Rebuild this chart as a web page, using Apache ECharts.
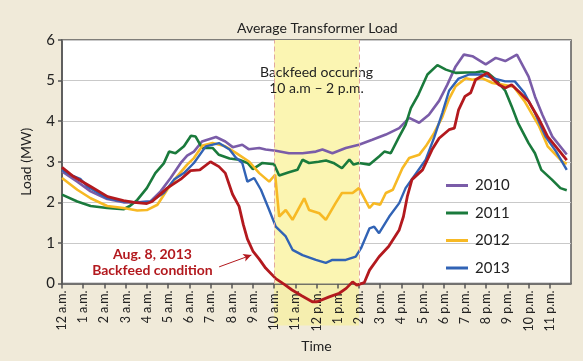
<!DOCTYPE html>
<html><head><meta charset="utf-8">
<script src="https://cdn.jsdelivr.net/npm/echarts@6/dist/echarts.min.js"></script>
<style>html,body{margin:0;padding:0;background:#f0ead9;}#c{width:583px;height:361px;}</style>
</head><body><div id="c"></div>
<script>
const hourLabels = ['12 a.m.','1 a.m.','2 a.m.','3 a.m.','4 a.m.','5 a.m.','6 a.m.','7 a.m.','8 a.m.','9 a.m.','10 a.m.','11 a.m.','12 p.m.','1 p.m.','2 p.m.','3 p.m.','4 p.m.','5 p.m.','6 p.m.','7 p.m.','8 p.m.','9 p.m.','10 p.m.','11 p.m.'];
const legendNames = ['2010','2011','2012','2013'];

const hours2010 = [0,0.72,1.35,2.13,2.9,3.55,4.17,4.65,5.12,5.6,5.9,6.22,6.6,7.26,7.7,8.05,8.5,8.8,9.3,9.6,10.08,10.7,11.34,11.97,12.28,12.75,13.38,14.0,14.63,15.27,15.9,16.37,16.84,17.3,17.78,18.17,18.56,18.95,19.35,19.98,20.45,20.9,21.45,22.0,22.3,22.65,23.12,23.8];
const load2010  = [2.76,2.51,2.27,2.08,2.0,2.0,2.02,2.27,2.6,2.97,3.15,3.25,3.5,3.61,3.5,3.36,3.42,3.31,3.34,3.3,3.27,3.21,3.21,3.25,3.3,3.21,3.34,3.42,3.54,3.67,3.83,4.08,3.96,4.16,4.5,4.9,5.35,5.64,5.6,5.4,5.56,5.48,5.64,5.1,4.61,4.16,3.62,3.18];

const hours2011 = [0,0.72,1.35,2.13,2.9,3.2,3.55,4.0,4.4,4.8,5.05,5.35,5.75,6.08,6.3,6.6,7.1,7.4,7.9,8.35,8.75,9.0,9.45,10.0,10.24,10.7,11.1,11.34,11.65,12.1,12.45,12.8,13.2,13.55,13.75,14.0,14.5,14.95,15.2,15.5,15.9,16.2,16.45,16.8,17.23,17.7,18.1,18.56,19.04,19.5,19.8,20.1,20.5,20.9,21.2,21.5,22.0,22.3,22.6,23.1,23.5,23.8];
const load2011  = [2.19,2.02,1.91,1.86,1.83,1.91,2.06,2.35,2.72,2.96,3.25,3.21,3.38,3.64,3.62,3.34,3.34,3.17,3.08,3.05,2.97,2.82,2.97,2.94,2.66,2.74,2.8,3.05,2.97,3.0,3.03,2.97,2.84,3.05,2.93,2.97,2.93,3.13,3.25,3.21,3.62,3.91,4.32,4.65,5.15,5.38,5.27,5.19,5.2,5.2,5.23,5.18,5.0,4.75,4.37,3.96,3.46,3.21,2.8,2.56,2.35,2.3];

const hours2012 = [0,0.72,1.35,2.13,2.9,3.55,4.0,4.5,4.96,5.43,5.9,6.22,6.63,7.1,7.7,8.2,8.83,9.3,9.77,10.05,10.24,10.55,10.87,11.42,11.65,12.13,12.44,12.9,13.2,13.7,14.0,14.5,14.7,15.0,15.27,15.6,16.05,16.37,16.84,17.15,17.55,17.93,18.25,18.56,19.04,19.35,19.8,20.3,20.75,21.3,21.8,22.5,22.9,23.6,23.8];
const load2012  = [2.6,2.31,2.1,1.91,1.86,1.8,1.81,1.94,2.31,2.64,2.93,3.09,3.4,3.46,3.38,3.22,3.0,2.72,2.51,2.68,1.65,1.81,1.57,2.1,1.81,1.73,1.57,1.98,2.23,2.23,2.35,1.86,1.98,1.94,2.23,2.31,2.84,3.09,3.17,3.38,3.71,4.1,4.55,4.86,5.06,5.02,5.06,4.94,4.9,4.85,4.5,3.87,3.38,3.0,2.95];

const hours2013 = [0,0.4,0.88,1.2,2.13,2.9,3.55,4.17,4.8,5.28,5.75,6.22,6.78,7.4,7.9,8.2,8.5,8.74,9.06,9.38,9.77,10.08,10.55,10.87,11.34,11.97,12.44,12.75,13.38,13.85,14.1,14.5,14.72,14.95,15.43,15.9,16.2,16.7,17.15,17.55,17.93,18.25,18.7,19.2,19.8,20.3,20.9,21.35,21.8,22.3,22.8,23.3,23.8];
const load2013  = [2.8,2.68,2.57,2.39,2.1,2.02,2.0,2.02,2.23,2.56,2.72,2.97,3.38,3.46,3.3,3.1,2.97,2.51,2.6,2.31,1.81,1.4,1.16,0.83,0.7,0.58,0.51,0.58,0.58,0.66,0.87,1.36,1.4,1.24,1.65,1.98,2.35,2.72,3.05,3.6,4.2,4.75,5.05,5.15,5.15,5.06,4.98,4.98,4.7,4.2,3.62,3.25,2.8];

const hoursAug8 = [0,0.5,1.35,2.15,2.9,3.4,4.0,4.25,4.96,5.6,6.06,6.5,7.0,7.4,7.7,8.04,8.35,8.55,8.74,9.0,9.3,9.6,10.08,10.5,10.85,11.3,11.8,12.03,12.6,13.07,13.4,13.7,13.9,14.25,14.5,14.95,15.4,15.9,16.1,16.28,16.5,17.0,17.45,17.78,18.25,18.5,18.7,19.0,19.27,19.5,20.05,20.35,20.6,20.9,21.2,21.6,22.0,22.5,22.9,23.4,23.8];
const loadAug8  = [2.86,2.65,2.39,2.14,2.04,2.0,1.97,2.02,2.35,2.57,2.78,2.8,3.0,2.88,2.72,2.2,1.9,1.45,1.1,0.8,0.6,0.38,0.12,-0.03,-0.16,-0.3,-0.45,-0.45,-0.33,-0.24,-0.12,0.04,-0.04,0.02,0.33,0.66,0.91,1.32,1.65,2.14,2.56,2.8,3.3,3.58,3.79,3.83,4.28,4.61,4.7,5.02,5.19,5.02,4.9,4.82,4.9,4.7,4.49,4.04,3.62,3.3,3.04];

const backfeedStart = 10, backfeedEnd = 14;
const arrowFrom = [7.41, 0.41], arrowTo = [8.93, 0.7];

const pairs = (h, v) => h.map((x, i) => [x, v[i]]);
const FONT = 'Lato';
const colors = {p:'#7a5ca8', g:'#1a7a3c', y:'#f7b924', b:'#3163b5', r:'#b3191e'};

const chart = echarts.init(document.getElementById('c'), null, {renderer:'canvas'});
const lineSeries = (name, data, color, w) => ({
  name, type:'line', data, showSymbol:false, symbol:'none', color,
  lineStyle:{color, width:w}, animation:false
});
const series = [
  lineSeries('2010', pairs(hours2010, load2010), colors.p, 2.6),
  lineSeries('2011', pairs(hours2011, load2011), colors.g, 2.6),
  lineSeries('2012', pairs(hours2012, load2012), colors.y, 2.6),
  lineSeries('2013', pairs(hours2013, load2013), colors.b, 2.4),
  Object.assign(lineSeries('Aug. 8, 2013', pairs(hoursAug8, loadAug8), colors.r, 2.8), {
    clip:false, z:3,
    markLine:{silent:true, symbol:['none','arrow'], symbolSize:[6,8],
      lineStyle:{color:colors.r, width:1, type:'solid'}, label:{show:false},
      data:[[{coord:arrowFrom},{coord:arrowTo}]]}
  })
];
series[0].markArea = {silent:true, itemStyle:{color:'#fbf5b2'},
  label:{show:true, position:'insideTop', distance:24, formatter:'Backfeed occuring\n10 a.m – 2 p.m.',
    color:'#222', fontSize:14, fontFamily:FONT, lineHeight:16, align:'center'},
  data:[[{xAxis:backfeedStart},{xAxis:backfeedEnd}]]};
series[0].markLine = {silent:true, symbol:'none', label:{show:false},
  lineStyle:{color:'#e2a7a0', type:[5,3], width:1},
  data:[{xAxis:backfeedStart},{xAxis:backfeedEnd}]};

chart.setOption({
  backgroundColor:'#f0ead9',
  animation:false,
  title:{text:'Average Transformer Load', left:232, top:16,
    textStyle:{fontFamily:FONT, fontSize:14, fontWeight:'normal', color:'#222'}},
  grid:{left:62, top:40, right:12, bottom:77.5, show:true, backgroundColor:'#fff',
    borderColor:'#5a5a5a', borderWidth:1.5, containLabel:false},
  legend:{data:legendNames, orient:'vertical', left:441, top:173, icon:'rect',
    itemWidth:22, itemHeight:3, itemGap:12.5,
    textStyle:{fontFamily:FONT, fontSize:15, color:'#222', padding:[0,0,0,2]}},
  xAxis:{type:'value', min:0, max:24, interval:1, name:'Time', nameLocation:'middle', nameGap:48,
    nameTextStyle:{fontFamily:FONT, fontSize:14, color:'#222'},
    axisLine:{show:true, lineStyle:{color:'#555', width:1.5}},
    axisTick:{show:true, length:5, lineStyle:{color:'#555', width:1.5}},
    splitLine:{show:false},
    axisLabel:{rotate:90, margin:7, fontFamily:FONT, fontSize:12.5, color:'#222', showMaxLabel:false,
      formatter:v => (v >= 0 && v < 24 && Number.isInteger(v)) ? hourLabels[v] : ''}},
  yAxis:{type:'value', min:0, max:6, interval:1, name:'Load (MW)', nameLocation:'middle', nameGap:29,
    nameTextStyle:{fontFamily:FONT, fontSize:14, color:'#222'},
    axisLine:{show:true, lineStyle:{color:'#555', width:1.5}},
    axisTick:{show:true, length:4, lineStyle:{color:'#555', width:1.5}},
    splitLine:{lineStyle:{color:'#c9c9c9', width:1.2}},
    axisLabel:{margin:7, fontFamily:FONT, fontSize:15, color:'#222'}},
  series
});

const x0 = chart.convertToPixel({xAxisIndex:0}, backfeedStart);
const x1 = chart.convertToPixel({xAxisIndex:0}, backfeedEnd);
const yb = chart.convertToPixel({yAxisIndex:0}, 0);
const ann = chart.convertToPixel({xAxisIndex:0, yAxisIndex:0}, arrowFrom);
chart.setOption({graphic:[
  {type:'rect', z:-1, zlevel:0, silent:true, shape:{x:x0, y:yb, width:x1-x0, height:42},
    style:{fill:'#f5eeaf'}},
  {type:'text', silent:true, z:10, left:ann[0]-127, top:ann[1]-20,
    style:{text:'Aug. 8, 2013\nBackfeed condition', fill:colors.r, font:'bold 14px '+FONT,
      textAlign:'center', lineHeight:16, x:0, y:0}}
]});
</script></body></html>
